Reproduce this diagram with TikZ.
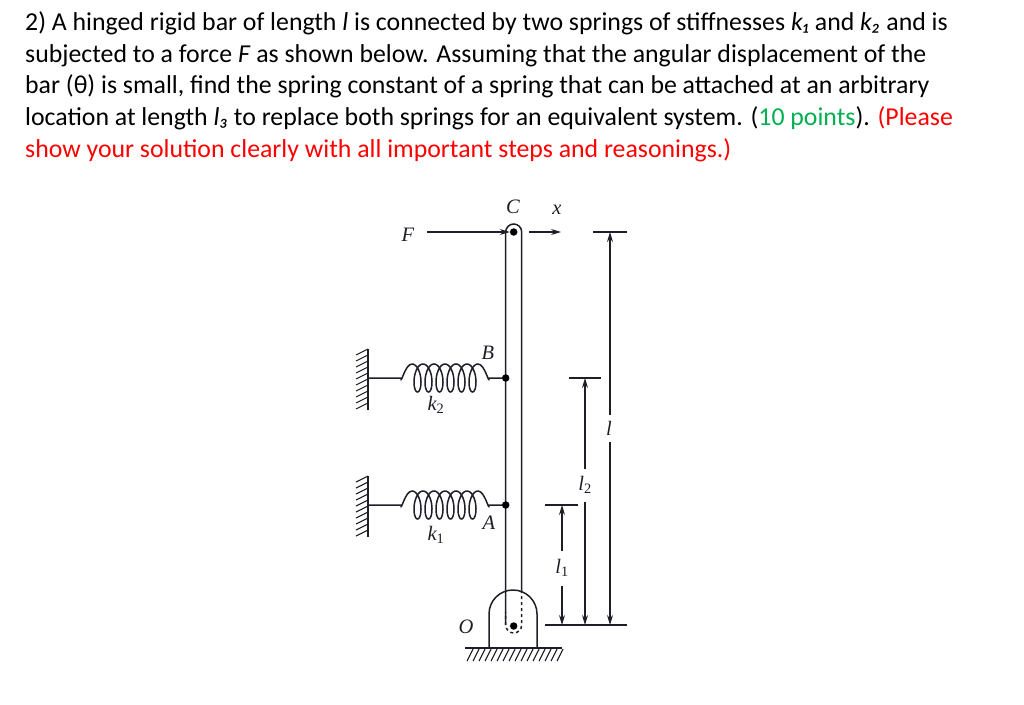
\documentclass[tikz,border=0pt]{standalone}
\usepackage{fontspec}
\setmainfont{Carlito}
\newfontfamily\dfont{Liberation Serif}
\usetikzlibrary{arrows.meta}
\definecolor{pgreen}{RGB}{0,176,80}
\definecolor{pred}{RGB}{255,0,0}
\definecolor{ink}{RGB}{30,30,40}
\begin{document}
\begin{tikzpicture}[x=1pt,y=-1pt,
  txt/.style={anchor=base west,inner sep=0pt,font=\fontsize{25.8}{28}\selectfont},
  lbl/.style={inner sep=0pt,font=\dfont\itshape\fontsize{20.5}{22}\selectfont,text=ink},
  lw/.style={line width=1.5pt,draw=ink},
  thin/.style={line width=1.1pt,draw=ink},
  arr/.style={-{Stealth[length=10pt,width=6pt]}},
  dot/.style={circle,fill=black,inner sep=0pt,minimum size=7.5pt}]
\useasboundingbox (0,0) rectangle (1024,704);
% text
\node[txt] (t1) at (25,30) {2) A hinged rigid bar of length \textit{l} is connected by two springs of stiffnesses \textit{k₁} and \textit{k₂} and is};
\node[txt] (t2) at (25,62) {subjected to a force \textit{F} as shown below. Assuming that the angular displacement of the};
\node[txt] (t3) at (25,93.5) {bar (θ) is small, find the spring constant of a spring that can be attached at an arbitrary};
\node[txt] (t4) at (25,125) {location at length \textit{l₃} to replace both springs for an equivalent system. (\textcolor{pgreen}{10 points}). \textcolor{pred}{(Please}};
\node[txt,text=pred] (t5) at (25,157) {show your solution clearly with all important steps and reasonings.)};
% bar
\draw[lw] (505.7,625) -- (505.7,232) arc[start angle=180,end angle=360,radius=8] -- (521.7,590);
\draw[lw,dashed] (521.7,590) -- (521.7,625) arc[start angle=0,end angle=180,radius=8] -- (505.7,612);
\node[dot] (C) at (513.7,232) {};
\node[dot] (O) at (513.7,626) {};
% support
\draw[lw] (489,648) -- (489,614) arc[start angle=180,end angle=360,radius=24] -- (537,648);
\draw[lw] (465,648) -- (562,648);
\foreach \i in {0,...,15} \draw[thin] (467+6*\i,661) -- (473+6*\i,649);
% springs
\foreach \yy/\nm in {378/B,505/A}{
  \coordinate (w\nm) at (368,\yy);
  \node[dot] (\nm) at (505.7,\yy) {};
  \draw[lw] (368,\yy-29) -- (368,\yy+32);
  \foreach \j in {0,...,9} \draw[thin] (356,\yy-23+6*\j) -- (368,\yy-29+6*\j);
  \draw[lw] (w\nm) -- (401,\yy) to[out=-90,in=180] (412,\yy-14);
  \draw[lw] (\nm) -- (489,\yy) to[out=-90,in=0] (478,\yy-14);
  \draw[lw] plot[domain=0:2160,samples=220,smooth] ({412+\x/360*11+6*sin(\x)},{\yy-14*cos(\x)});
}
% labels
\node[lbl] (lC) at (513,207) {C};
\node[lbl] (lx) at (557,210) {x};
\node[lbl] (lF) at (408,235) {F};
\node[lbl] (lB) at (488,353) {B};
\node[lbl] (lA) at (489,523) {A};
\node[lbl] (lk2) at (436,405) {k\textsubscript{\upshape 2}};
\node[lbl] (lk1) at (436,535) {k\textsubscript{\upshape 1}};
\node[lbl] (lO) at (466,627) {O};
\draw[thin,arr] (427,232) -- (C.west);
\coordinate (xs) at (529,232); \coordinate (xe) at (561,232);
\draw[thin,arr] (xs) -- (xe);
% dimensions
\coordinate (Lt) at (593,232); \coordinate (Lt2) at (627,232);
\coordinate (L2t) at (569,378); \coordinate (L2t2) at (601,378);
\coordinate (L1t) at (545,505); \coordinate (L1t2) at (578,505);
\coordinate (Bl) at (545,625); \coordinate (Br) at (627,625);
\draw[thin] (Lt) -- (Lt2); \draw[thin] (L2t) -- (L2t2); \draw[thin] (L1t) -- (L1t2); \draw[thin] (Bl) -- (Br);
\node[lbl] (ll) at (609,428) {l};
\node[lbl] (ll2) at (585,485) {l\textsubscript{\upshape 2}};
\node[lbl] (ll1) at (562,568) {l\textsubscript{\upshape 1}};
\draw[thin,arr] (610,415) -- (610,232);
\draw[thin,arr] (610,442) -- (610,625);
\draw[thin,arr] (585,469) -- (585,378);
\draw[thin,arr] (585,502) -- (585,625);
\draw[thin,arr] (562,551) -- (562,505);
\draw[thin,arr] (562,586) -- (562,625);
\end{tikzpicture}
\end{document}
